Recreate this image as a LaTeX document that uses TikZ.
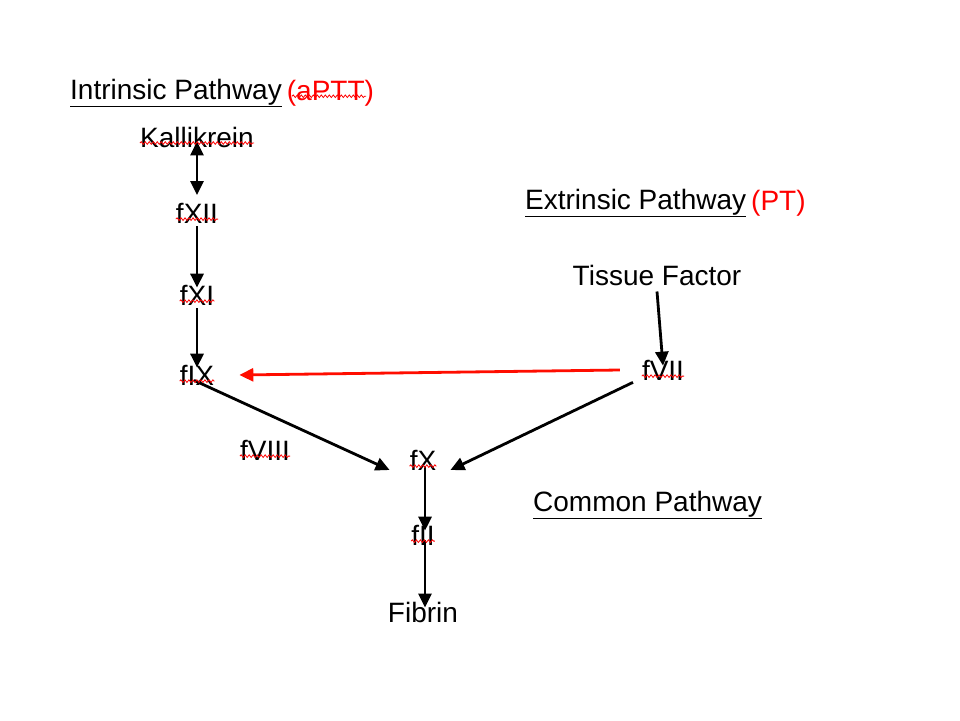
\documentclass[tikz,border=0pt]{standalone}
\usepackage{fontspec}
\setmainfont{Liberation Sans}
\usetikzlibrary{arrows.meta,decorations.pathmorphing}
\begin{document}
\begin{tikzpicture}[x=1pt,y=-1pt,
  lbl/.style={inner sep=0pt,font=\fontsize{28}{34}\selectfont},
  arr/.style={line width=2.8pt,-{Triangle[length=14pt,width=13pt]}},
  wavy/.style={red,line width=0.8pt,decorate,decoration={snake,amplitude=1.3pt,segment length=4pt}}]
\useasboundingbox[fill=white] (0,0) rectangle (960,720);
\node[lbl,anchor=west] (intr) at (70,93) {\underline{Intrinsic Pathway}};
\node[lbl,anchor=west,text=red] (aptt) at (intr.east) {\,(aPTT)};
\node[lbl] (kal) at (197,137) {Kallikrein};
\node[lbl] (f12) at (197,213) {fXII};
\node[lbl] (f11) at (197,295) {fXI};
\node[lbl] (f9) at (197,375) {fIX};
\node[lbl,anchor=west] (extr) at (525,203) {\underline{Extrinsic Pathway}};
\node[lbl,anchor=west,text=red] (pt) at (extr.east) {\,(PT)};
\node[lbl] (tf) at (657,275) {Tissue Factor};
\node[lbl] (f7) at (663,370) {fVII};
\node[lbl] (f8) at (265,450) {fVIII};
\node[lbl] (f10) at (423,460) {fX};
\node[lbl,anchor=west] (com) at (533,505) {\underline{Common Pathway}};
\node[lbl] (f2) at (423,535) {fII};
\node[lbl] (fib) at (423,612) {Fibrin};
\draw[arr] (kal.south) ++(0,-6) coordinate (k1);
\draw[arr] (197,155) -- (197,195);
\path (kal.south) coordinate (ks);
\draw[arr] (f12.south) ++(0,3) -- ([yshift=-3pt]f11.north);
\draw[arr] (f11.south) ++(0,3) -- ([yshift=-3pt]f9.north);
\draw[arr] (tf.south) ++(0,6) -- ([yshift=-6pt]f7.north);
\draw[arr,red!90!orange] ([xshift=-22pt]f7.west) -- ([xshift=25pt]f9.east);
\draw[arr] ([xshift=-3pt,yshift=5pt]f9.south) -- ([xshift=-20pt,yshift=-10pt]f10.west);
\draw[arr] ([xshift=-30pt,yshift=-2pt]f7.south) -- ([xshift=14pt,yshift=-10pt]f10.east);
\draw[arr] ([xshift=2pt,yshift=4pt]f10.south) -- ([xshift=2pt,yshift=-6pt]f2.north);
\draw[arr] ([xshift=2pt,yshift=5pt]f2.south) -- ([xshift=2pt,yshift=-6pt]fib.north);
% spell-check underlines
\draw[wavy] ([yshift=4pt]kal.base west) -- ([yshift=4pt]kal.base east);
\draw[wavy] ([xshift=10pt,yshift=4pt]aptt.base west) -- ([xshift=-8pt,yshift=4pt]aptt.base east);
\foreach \n in {f12,f11,f9,f7,f8,f10,f2}
  \draw[wavy] ([yshift=4pt]\n.base west) -- ([yshift=4pt]\n.base east);
\end{tikzpicture}
\end{document}
